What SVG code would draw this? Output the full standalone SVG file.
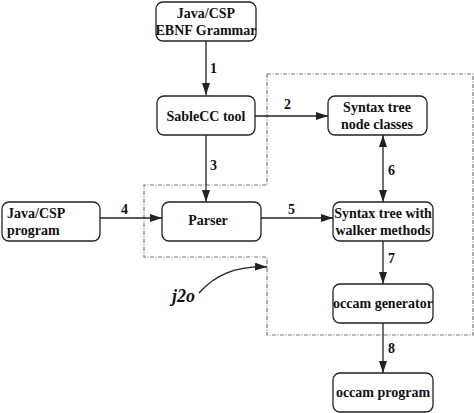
<svg xmlns="http://www.w3.org/2000/svg" width="474" height="413" viewBox="0 0 474 413">
<style>
.box{fill:#fff;stroke:#222;stroke-width:1.3}
.t{font-family:'Liberation Serif','Times New Roman',Times,'DejaVu Serif',serif;font-weight:bold;font-size:14px;fill:#111}
.c{text-anchor:middle}
.e{stroke:#222;stroke-width:1.3;fill:none}
.d{stroke:#777;stroke-width:1.2;fill:none;stroke-dasharray:4 1.5 1 1.5}
.j{font-family:'Liberation Serif','Times New Roman',Times,'DejaVu Serif',serif;font-weight:bold;font-style:italic;font-size:18px;fill:#111}
</style>
<defs>
<marker id="a" markerWidth="12" markerHeight="8" refX="12" refY="4" orient="auto" markerUnits="userSpaceOnUse">
<path d="M0,0 L12,4 L0,8 Z" fill="#222"/>
</marker>
<marker id="s" markerWidth="12" markerHeight="8" refX="0" refY="4" orient="auto" markerUnits="userSpaceOnUse">
<path d="M12,0 L0,4 L12,8 Z" fill="#222"/>
</marker>
</defs>
<g id="region">
<path class="d" d="M267,74 H473 V335 H267 V257 H144 V185 H267 Z"/>
</g>
<g id="connectors">
<line class="e" x1="206" y1="41" x2="206" y2="95" marker-end="url(#a)"/>
<line class="e" x1="255" y1="116" x2="328" y2="116" marker-end="url(#a)"/>
<line class="e" x1="206" y1="135" x2="206" y2="202" marker-end="url(#a)"/>
<line class="e" x1="100" y1="218" x2="162" y2="218" marker-end="url(#a)"/>
<line class="e" x1="261" y1="218" x2="333" y2="218" marker-end="url(#a)"/>
<line class="e" x1="383" y1="135" x2="383" y2="202" marker-start="url(#s)" marker-end="url(#a)"/>
<line class="e" x1="383" y1="241" x2="383" y2="284" marker-end="url(#a)"/>
<line class="e" x1="383" y1="323" x2="383" y2="373" marker-end="url(#a)"/>
<path class="e" d="M199,293 C215,275 235,266 267,267" marker-end="url(#a)"/>
<text class="t" x="210" y="73">1</text>
<text class="t" x="284" y="109">2</text>
<text class="t" x="210" y="170">3</text>
<text class="t" x="121" y="214">4</text>
<text class="t" x="288" y="214">5</text>
<text class="t" x="388" y="175">6</text>
<text class="t" x="388" y="263">7</text>
<text class="t" x="388" y="353">8</text>
<text class="j" x="172" y="302">j2o</text>
</g>
<g id="grammar">
<rect class="box" x="156" y="2" width="100" height="39" rx="7"/>
<text class="t c" x="206" y="18">Java/CSP</text>
<text class="t c" x="206" y="35">EBNF Grammar</text>
</g>
<g id="sablecc">
<rect class="box" x="157" y="96" width="98" height="39" rx="7"/>
<text class="t c" x="206" y="121">SableCC tool</text>
</g>
<g id="nodeclasses">
<rect class="box" x="328" y="96" width="99" height="39" rx="7"/>
<text class="t c" x="377" y="112">Syntax tree</text>
<text class="t c" x="377" y="129">node classes</text>
</g>
<g id="program">
<rect class="box" x="2" y="202" width="98" height="39" rx="7"/>
<text class="t" x="7" y="218">Java/CSP</text>
<text class="t" x="7" y="235">program</text>
</g>
<g id="parser">
<rect class="box" x="162" y="202" width="99" height="39" rx="7"/>
<text class="t c" x="208" y="225">Parser</text>
</g>
<g id="walker">
<rect class="box" x="333" y="202" width="100" height="39" rx="7"/>
<text class="t c" x="383" y="218">Syntax tree with</text>
<text class="t c" x="383" y="235">walker methods</text>
</g>
<g id="generator">
<rect class="box" x="333" y="284" width="100" height="39" rx="7"/>
<text class="t c" x="383" y="308">occam generator</text>
</g>
<g id="occam">
<rect class="box" x="333" y="373" width="100" height="39" rx="7"/>
<text class="t c" x="383" y="397">occam program</text>
</g>
</svg>
